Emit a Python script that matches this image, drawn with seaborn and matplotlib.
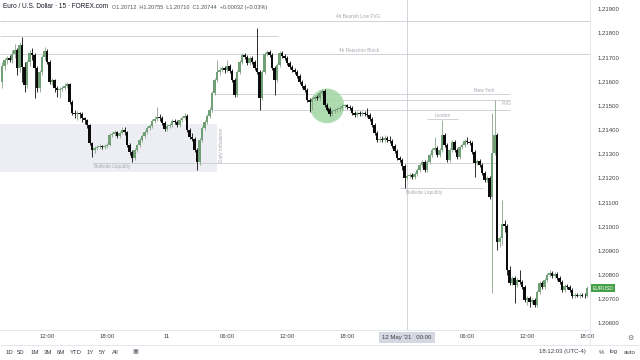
import numpy as np
import pandas as pd
import matplotlib
matplotlib.use("Agg")
import matplotlib.pyplot as plt
import matplotlib.transforms as mtransforms
from matplotlib.patches import Ellipse, Rectangle
from matplotlib.lines import Line2D
import seaborn as sns

# ---------------- data (EURUSD, 15 min, FOREX.com) ----------------
start_time = "2021-05-10 07:30"

opens = [
    1.21599, 1.21665, 1.21690, 1.21698, 1.21690, 1.21715, 1.21731, 1.21657, 1.21752, 1.21661,
    1.21587, 1.21682, 1.21719, 1.21711, 1.21657, 1.21574, 1.21640, 1.21702, 1.21727, 1.21682,
    1.21599, 1.21607, 1.21574, 1.21566, 1.21570, 1.21574, 1.21582, 1.21591, 1.21516, 1.21471,
    1.21466, 1.21471, 1.21466, 1.21450, 1.21442, 1.21421, 1.21346, 1.21317, 1.21326, 1.21330,
    1.21334, 1.21330, 1.21334, 1.21338, 1.21379, 1.21384, 1.21392, 1.21375, 1.21388, 1.21400,
    1.21392, 1.21338, 1.21309, 1.21284, 1.21317, 1.21338, 1.21359, 1.21375, 1.21392, 1.21408,
    1.21417, 1.21437, 1.21446, 1.21454, 1.21450, 1.21429, 1.21404, 1.21417, 1.21421, 1.21437,
    1.21433, 1.21421, 1.21442, 1.21450, 1.21458, 1.21400, 1.21371, 1.21363, 1.21317, 1.21268,
    1.21359, 1.21408, 1.21433, 1.21458, 1.21483, 1.21553, 1.21607, 1.21640, 1.21649, 1.21657,
    1.21649, 1.21665, 1.21645, 1.21607, 1.21545, 1.21640, 1.21682, 1.21711, 1.21702, 1.21678,
    1.21698, 1.21682, 1.21657, 1.21640, 1.21533, 1.21640, 1.21715, 1.21723, 1.21711, 1.21657,
    1.21607, 1.21669, 1.21719, 1.21707, 1.21698, 1.21678, 1.21661, 1.21649, 1.21640, 1.21624,
    1.21599, 1.21582, 1.21566, 1.21524, 1.21516, 1.21529, 1.21537, 1.21533, 1.21553, 1.21562,
    1.21504, 1.21487, 1.21466, 1.21479, 1.21483, 1.21487, 1.21491, 1.21500, 1.21504, 1.21495,
    1.21491, 1.21471, 1.21462, 1.21471, 1.21466, 1.21471, 1.21466, 1.21462, 1.21446, 1.21421,
    1.21388, 1.21359, 1.21363, 1.21359, 1.21367, 1.21359, 1.21355, 1.21334, 1.21313, 1.21284,
    1.21276, 1.21251, 1.21202, 1.21210, 1.21214, 1.21206, 1.21218, 1.21235, 1.21255, 1.21268,
    1.21235, 1.21268, 1.21297, 1.21317, 1.21326, 1.21297, 1.21317, 1.21379, 1.21338, 1.21276,
    1.21317, 1.21351, 1.21317, 1.21288, 1.21330, 1.21338, 1.21355, 1.21351, 1.21346, 1.21309,
    1.21264, 1.21272, 1.21255, 1.21222, 1.21193, 1.21202, 1.21123, 1.21305, 1.21379, 1.20936,
    1.20953, 1.21011, 1.21003, 1.20820, 1.20767, 1.20787, 1.20758, 1.20779, 1.20771, 1.20750,
    1.20696, 1.20705, 1.20688, 1.20696, 1.20676, 1.20729, 1.20767, 1.20750, 1.20779, 1.20800,
    1.20808, 1.20796, 1.20804, 1.20787, 1.20771, 1.20738, 1.20754, 1.20750, 1.20738, 1.20713,
    1.20717, 1.20713, 1.20717, 1.20713, 1.20712,
]

highs = [
    1.21682, 1.21698, 1.21707, 1.21711, 1.21731, 1.21756, 1.21740, 1.21765, 1.21785, 1.21682,
    1.21690, 1.21731, 1.21740, 1.21719, 1.21665, 1.21649, 1.21711, 1.21744, 1.21736, 1.21690,
    1.21616, 1.21611, 1.21582, 1.21578, 1.21582, 1.21595, 1.21599, 1.21595, 1.21524, 1.21483,
    1.21479, 1.21475, 1.21475, 1.21454, 1.21446, 1.21425, 1.21351, 1.21334, 1.21338, 1.21342,
    1.21338, 1.21342, 1.21346, 1.21388, 1.21392, 1.21400, 1.21396, 1.21396, 1.21413, 1.21413,
    1.21396, 1.21346, 1.21317, 1.21326, 1.21342, 1.21367, 1.21384, 1.21400, 1.21417, 1.21425,
    1.21446, 1.21458, 1.21495, 1.21466, 1.21458, 1.21437, 1.21425, 1.21429, 1.21446, 1.21446,
    1.21442, 1.21450, 1.21458, 1.21471, 1.21466, 1.21408, 1.21388, 1.21371, 1.21326, 1.21367,
    1.21417, 1.21442, 1.21466, 1.21495, 1.21562, 1.21616, 1.21690, 1.21661, 1.21665, 1.21665,
    1.21690, 1.21674, 1.21653, 1.21616, 1.21649, 1.21690, 1.21719, 1.21719, 1.21711, 1.21707,
    1.21707, 1.21690, 1.21823, 1.21649, 1.21649, 1.21723, 1.21731, 1.21731, 1.21719, 1.21665,
    1.21678, 1.21727, 1.21727, 1.21715, 1.21707, 1.21686, 1.21669, 1.21657, 1.21649, 1.21632,
    1.21607, 1.21591, 1.21574, 1.21533, 1.21537, 1.21545, 1.21545, 1.21562, 1.21570, 1.21570,
    1.21512, 1.21495, 1.21487, 1.21491, 1.21495, 1.21500, 1.21508, 1.21508, 1.21508, 1.21504,
    1.21500, 1.21479, 1.21479, 1.21479, 1.21479, 1.21479, 1.21491, 1.21471, 1.21454, 1.21429,
    1.21396, 1.21375, 1.21375, 1.21379, 1.21375, 1.21375, 1.21363, 1.21342, 1.21322, 1.21293,
    1.21284, 1.21259, 1.21218, 1.21222, 1.21222, 1.21226, 1.21243, 1.21264, 1.21276, 1.21276,
    1.21276, 1.21305, 1.21326, 1.21371, 1.21334, 1.21326, 1.21442, 1.21388, 1.21346, 1.21326,
    1.21359, 1.21359, 1.21326, 1.21338, 1.21346, 1.21363, 1.21371, 1.21359, 1.21355, 1.21317,
    1.21280, 1.21280, 1.21264, 1.21230, 1.21210, 1.21210, 1.21471, 1.21524, 1.21388, 1.20961,
    1.21110, 1.21027, 1.21011, 1.20837, 1.20796, 1.20796, 1.20787, 1.20820, 1.20779, 1.20758,
    1.20713, 1.20713, 1.20705, 1.20705, 1.20738, 1.20775, 1.20775, 1.20787, 1.20808, 1.20820,
    1.20816, 1.20812, 1.20812, 1.20796, 1.20779, 1.20763, 1.20763, 1.20758, 1.20746, 1.20725,
    1.20725, 1.20725, 1.20725, 1.20725, 1.20755,
]

lows = [
    1.21574, 1.21649, 1.21674, 1.21682, 1.21678, 1.21698, 1.21628, 1.21640, 1.21599, 1.21558,
    1.21574, 1.21665, 1.21690, 1.21533, 1.21558, 1.21558, 1.21628, 1.21690, 1.21674, 1.21591,
    1.21587, 1.21558, 1.21537, 1.21533, 1.21562, 1.21566, 1.21574, 1.21508, 1.21462, 1.21450,
    1.21442, 1.21450, 1.21433, 1.21425, 1.21408, 1.21338, 1.21288, 1.21305, 1.21317, 1.21322,
    1.21322, 1.21322, 1.21326, 1.21334, 1.21371, 1.21375, 1.21367, 1.21367, 1.21384, 1.21379,
    1.21330, 1.21297, 1.21268, 1.21276, 1.21309, 1.21330, 1.21351, 1.21367, 1.21384, 1.21400,
    1.21408, 1.21429, 1.21437, 1.21437, 1.21421, 1.21396, 1.21396, 1.21408, 1.21413, 1.21425,
    1.21413, 1.21413, 1.21433, 1.21442, 1.21392, 1.21363, 1.21355, 1.21309, 1.21235, 1.21255,
    1.21351, 1.21400, 1.21425, 1.21450, 1.21475, 1.21545, 1.21599, 1.21628, 1.21640, 1.21636,
    1.21640, 1.21636, 1.21599, 1.21537, 1.21537, 1.21632, 1.21674, 1.21694, 1.21669, 1.21669,
    1.21674, 1.21649, 1.21632, 1.21483, 1.21524, 1.21632, 1.21707, 1.21702, 1.21649, 1.21545,
    1.21599, 1.21661, 1.21698, 1.21690, 1.21669, 1.21653, 1.21640, 1.21632, 1.21616, 1.21591,
    1.21574, 1.21558, 1.21516, 1.21475, 1.21483, 1.21520, 1.21524, 1.21524, 1.21545, 1.21495,
    1.21479, 1.21458, 1.21458, 1.21471, 1.21475, 1.21479, 1.21483, 1.21491, 1.21487, 1.21483,
    1.21462, 1.21454, 1.21454, 1.21458, 1.21458, 1.21458, 1.21454, 1.21437, 1.21413, 1.21379,
    1.21351, 1.21351, 1.21351, 1.21351, 1.21351, 1.21346, 1.21326, 1.21305, 1.21276, 1.21268,
    1.21235, 1.21160, 1.21193, 1.21202, 1.21197, 1.21197, 1.21210, 1.21226, 1.21247, 1.21226,
    1.21226, 1.21259, 1.21288, 1.21309, 1.21288, 1.21288, 1.21309, 1.21330, 1.21268, 1.21268,
    1.21309, 1.21309, 1.21280, 1.21280, 1.21322, 1.21330, 1.21342, 1.21338, 1.21301, 1.21206,
    1.21255, 1.21247, 1.21214, 1.21185, 1.21185, 1.21114, 1.20725, 1.21297, 1.20903, 1.20916,
    1.20924, 1.20978, 1.20800, 1.20758, 1.20758, 1.20684, 1.20750, 1.20763, 1.20742, 1.20688,
    1.20676, 1.20667, 1.20680, 1.20667, 1.20667, 1.20721, 1.20742, 1.20742, 1.20771, 1.20791,
    1.20787, 1.20787, 1.20779, 1.20763, 1.20729, 1.20729, 1.20742, 1.20729, 1.20705, 1.20705,
    1.20709, 1.20705, 1.20709, 1.20705, 1.20710,
]

closes = [
    1.21665, 1.21690, 1.21698, 1.21690, 1.21715, 1.21731, 1.21657, 1.21752, 1.21661, 1.21587,
    1.21682, 1.21719, 1.21711, 1.21657, 1.21574, 1.21640, 1.21702, 1.21727, 1.21682, 1.21599,
    1.21607, 1.21574, 1.21566, 1.21570, 1.21574, 1.21582, 1.21591, 1.21516, 1.21471, 1.21466,
    1.21471, 1.21466, 1.21450, 1.21442, 1.21421, 1.21346, 1.21317, 1.21326, 1.21330, 1.21334,
    1.21330, 1.21334, 1.21338, 1.21379, 1.21384, 1.21392, 1.21375, 1.21388, 1.21400, 1.21392,
    1.21338, 1.21309, 1.21284, 1.21317, 1.21338, 1.21359, 1.21375, 1.21392, 1.21408, 1.21417,
    1.21437, 1.21446, 1.21454, 1.21450, 1.21429, 1.21404, 1.21417, 1.21421, 1.21437, 1.21433,
    1.21421, 1.21442, 1.21450, 1.21458, 1.21400, 1.21371, 1.21363, 1.21317, 1.21268, 1.21359,
    1.21408, 1.21433, 1.21458, 1.21483, 1.21553, 1.21607, 1.21640, 1.21649, 1.21657, 1.21649,
    1.21665, 1.21645, 1.21607, 1.21545, 1.21640, 1.21682, 1.21711, 1.21702, 1.21678, 1.21698,
    1.21682, 1.21657, 1.21640, 1.21533, 1.21640, 1.21715, 1.21723, 1.21711, 1.21657, 1.21607,
    1.21669, 1.21719, 1.21707, 1.21698, 1.21678, 1.21661, 1.21649, 1.21640, 1.21624, 1.21599,
    1.21582, 1.21566, 1.21524, 1.21516, 1.21529, 1.21537, 1.21533, 1.21553, 1.21562, 1.21504,
    1.21487, 1.21466, 1.21479, 1.21483, 1.21487, 1.21491, 1.21500, 1.21504, 1.21495, 1.21491,
    1.21471, 1.21462, 1.21471, 1.21466, 1.21471, 1.21466, 1.21462, 1.21446, 1.21421, 1.21388,
    1.21359, 1.21363, 1.21359, 1.21367, 1.21359, 1.21355, 1.21334, 1.21313, 1.21284, 1.21276,
    1.21251, 1.21202, 1.21210, 1.21214, 1.21206, 1.21218, 1.21235, 1.21255, 1.21268, 1.21235,
    1.21268, 1.21297, 1.21317, 1.21326, 1.21297, 1.21317, 1.21379, 1.21338, 1.21276, 1.21317,
    1.21351, 1.21317, 1.21288, 1.21330, 1.21338, 1.21355, 1.21351, 1.21346, 1.21309, 1.21264,
    1.21272, 1.21255, 1.21222, 1.21193, 1.21202, 1.21123, 1.21305, 1.21379, 1.20936, 1.20953,
    1.21011, 1.21003, 1.20820, 1.20767, 1.20787, 1.20758, 1.20779, 1.20771, 1.20750, 1.20696,
    1.20705, 1.20688, 1.20696, 1.20676, 1.20729, 1.20767, 1.20750, 1.20779, 1.20800, 1.20808,
    1.20796, 1.20804, 1.20787, 1.20771, 1.20738, 1.20754, 1.20750, 1.20738, 1.20713, 1.20717,
    1.20713, 1.20717, 1.20713, 1.20712, 1.20744,
]

price_ticks = [1.206, 1.207, 1.208, 1.209, 1.210, 1.211, 1.212, 1.213,
               1.214, 1.215, 1.216, 1.217, 1.218, 1.219]
time_tick_times = ["2021-05-10 12:00", "2021-05-10 18:00", "2021-05-11 00:00",
                   "2021-05-11 06:00", "2021-05-11 12:00", "2021-05-11 18:00",
                   "2021-05-12 06:00", "2021-05-12 12:00", "2021-05-12 18:00"]
time_tick_labels = ["12:00", "18:00", "11", "06:00", "12:00", "18:00",
                    "06:00", "12:00", "18:00"]
crosshair_time = "2021-05-12 00:00"
crosshair_label = "12 May '21   00:00"

# drawn levels (price)
lvl_bearish_fvg = 1.21852
lvl_old_high = 1.21789
lvl_rejection = 1.21715
lvl_ny_top = 1.21549
lvl_fvg_top = 1.21524
lvl_ny_bottom = 1.21483
lvl_london = 1.21446
lvl_liq_left = 1.21264
lvl_liq_right = 1.21160
box_top, box_bottom = 1.21425, 1.21226
circle_price = 1.21500

# ---------------- style ----------------
sns.set_theme(style="white")
plt.rcParams["font.family"] = ["Liberation Sans", "DejaVu Sans"]

UP_BODY = "#72a076"
UP_WICK = "#8aa58c"
DN_BODY = "#0b0b0b"
LINE_C = "#c9cbd1"
LABEL_C = "#a6a8ae"
AXIS_TXT = "#3c3f46"

df = pd.DataFrame({
    "time": pd.date_range(start_time, periods=len(closes), freq="15min"),
    "open": opens, "high": highs, "low": lows, "close": closes,
})
df["x"] = np.arange(len(df))
df["up"] = df["close"] >= df["open"]
df["bottom"] = df[["open", "close"]].min(axis=1)
df["height"] = (df["close"] - df["open"]).abs().clip(lower=0.00002)

def tx(t):
    return int(df["time"].searchsorted(pd.Timestamp(t)))

fig = plt.figure(figsize=(6.4, 3.6), dpi=100)
fig.patch.set_facecolor("white")
ax = fig.add_axes([0, 30 / 360, 590 / 640, 330 / 360])
ax.set_facecolor("white")
ax.set_xlim(-0.8, 235.2)
ax.set_ylim(1.205721, 1.219385)

# liquidity box
ax.add_patch(Rectangle((-0.8, box_bottom), 86.8, box_top - box_bottom,
                       facecolor="#eceef3", edgecolor="none", zorder=0))

# horizontal drawings
ax.hlines(lvl_bearish_fvg, -0.8, 235.2, color=LINE_C, lw=0.6, zorder=1)
ax.hlines(lvl_old_high, -0.8, 110.4, color=LINE_C, lw=0.6, zorder=1)
ax.hlines(lvl_rejection, -0.8, 235.2, color=LINE_C, lw=0.6, zorder=1)
ax.hlines(lvl_ny_top, 84.4, 203.2, color=LINE_C, lw=0.6, zorder=1)
ax.hlines(lvl_ny_bottom, 84.4, 203.2, color=LINE_C, lw=0.6, zorder=1)
ax.hlines(lvl_fvg_top, 128.4, 203.2, color=LINE_C, lw=0.6, zorder=1)
ax.hlines(lvl_london, 170, 182.4, color=LINE_C, lw=0.6, zorder=1)
ax.hlines(lvl_liq_left, 36, 198, color=LINE_C, lw=0.6, zorder=1)
ax.hlines(lvl_liq_right, 159.2, 192.4, color=LINE_C, lw=0.6, zorder=1)

# crosshair
ax.axvline(tx(crosshair_time), color="#c9ccd3", lw=0.6, zorder=1)

# highlight circle
ax.add_patch(Ellipse((130, circle_price), 13.6, 0.00141, facecolor="#a6d8a8",
                     edgecolor="#b9e2ba", lw=0.6, alpha=0.9, zorder=2))

# candles
u = df[df["up"]]
d = df[~df["up"]]
ax.vlines(u["x"], u["low"], u["high"], colors=UP_WICK, lw=0.6, zorder=3)
ax.vlines(d["x"], d["low"], d["high"], colors=DN_BODY, lw=0.6, zorder=3)
ax.bar(u["x"], u["height"], bottom=u["bottom"], width=0.84, color=UP_BODY,
       linewidth=0, zorder=4)
ax.bar(d["x"], d["height"], bottom=d["bottom"], width=0.84, color=DN_BODY,
       linewidth=0, zorder=4)

# arrow inside circle
ax.annotate("", xy=(131.6, 1.21468), xytext=(129.4, 1.21498),
            arrowprops=dict(arrowstyle="-|>", color="black", lw=0.7,
                            mutation_scale=4), zorder=6)

# drawing labels
lab = dict(color=LABEL_C, fontsize=3.4, zorder=5)
ax.text(142.5, lvl_bearish_fvg + 0.00006, "4h Bearish Low FVG", ha="center", va="bottom", **lab)
ax.text(143, lvl_rejection + 0.00006, "4h Rejection Block", ha="center", va="bottom", **lab)
ax.text(193, lvl_ny_top + 0.00006, "New York", ha="center", va="bottom", **lab)
ax.text(201.8, 1.21512, "FVG", ha="center", va="center", **lab)
ax.text(176.4, lvl_london + 0.00004, "London", ha="center", va="bottom", **lab)
ax.text(44, 1.21251, "Bullside Liquidity", ha="center", va="center", **lab)
ax.text(169, 1.21143, "Bullside Liquidity", ha="center", va="center", **lab)
ax.text(88, 1.21340, "Daily Imbalance", rotation=90, ha="center", va="center", **lab)

# axes cosmetics
for s in ["top", "left"]:
    ax.spines[s].set_visible(False)
for s in ["right", "bottom"]:
    ax.spines[s].set_color("#e0e3eb")
    ax.spines[s].set_linewidth(0.6)
ax.grid(False)
ax.yaxis.tick_right()
ax.set_yticks(price_ticks)
ax.set_yticklabels([f"{p:.5f}" for p in price_ticks])
ax.tick_params(axis="y", length=0, pad=5.5, labelsize=4.3, labelcolor=AXIS_TXT)
ax.set_xticks([tx(t) for t in time_tick_times])
ax.set_xticklabels(time_tick_labels)
ax.tick_params(axis="x", length=0, pad=3.2, labelsize=4.3, labelcolor=AXIS_TXT)

# crosshair time label
fig.text(407 / 640, (360 - 337.5) / 360, crosshair_label, ha="center", va="center",
         fontsize=4.3, color=AXIS_TXT,
         bbox=dict(boxstyle="square,pad=0.55", fc="#d5d8e2", ec="none"))

# last price label
trans = mtransforms.blended_transform_factory(ax.transAxes, ax.transData)
ax.text(1.004, closes[-1], "EURUSD", transform=trans, ha="left", va="center",
        fontsize=3.6, color="white", clip_on=False, zorder=7,
        bbox=dict(boxstyle="square,pad=0.3", fc="#43a047", ec="none"))

# header
fig.text(3 / 640, (360 - 7) / 360,
         "Euro / U.S. Dollar \u00b7 15 \u00b7 FOREX.com", ha="left", va="center",
         fontsize=4.7, color="#131722")
fig.text(112 / 640, (360 - 7) / 360,
         "O1.20712  H1.20755  L1.20710  C1.20744  +0.00032 (+0.03%)",
         ha="left", va="center", fontsize=4.0, color="#4a574c")

# bottom toolbar
fig.add_artist(Line2D([0, 1], [15.5 / 360, 15.5 / 360], transform=fig.transFigure,
                      color="#e0e3eb", lw=0.6))
fig.add_artist(Line2D([590 / 640, 590 / 640], [15.5 / 360, 30 / 360],
                      transform=fig.transFigure, color="#e0e3eb", lw=0.6))
ty = (360 - 352) / 360
for lbl, xp in zip(["1D", "5D", "1M", "3M", "6M", "YTD", "1Y", "5Y", "All"],
                   [9, 21, 35, 48, 61, 76, 90, 102, 115]):
    fig.text(xp / 640, ty, lbl, ha="center", va="center", fontsize=4.3, color=AXIS_TXT)
fig.text(135 / 640, ty, "\u25a3", ha="center", va="center", fontsize=4.5,
         color="#6a6d78", family="DejaVu Sans")
fig.text(562 / 640, ty, "18:12:03 (UTC-4)", ha="center", va="center", fontsize=4.3,
         color=AXIS_TXT)
for lbl, xp in zip(["%", "log", "auto"], [601, 614, 630]):
    fig.text(xp / 640, ty, lbl, ha="center", va="center", fontsize=4.3, color=AXIS_TXT)
fig.text(630 / 640, (360 - 337.5) / 360, "\u2699", ha="center", va="center",
         fontsize=5, color="#6a6d78", family="DejaVu Sans")

fig.savefig("out.png", dpi=100, facecolor="white")
